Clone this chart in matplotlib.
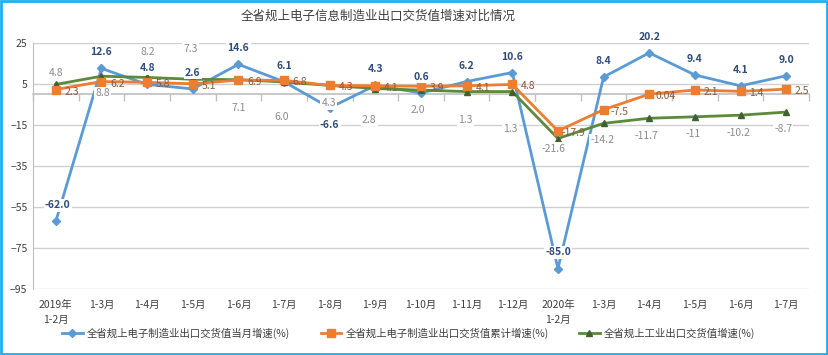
import matplotlib
matplotlib.use("Agg")
import matplotlib.pyplot as plt
from matplotlib.lines import Line2D
from matplotlib.patches import Rectangle

plt.rcParams['font.family'] = ['Noto Sans CJK SC', 'DejaVu Sans']

# data
cats = ["2019年\n1-2月", "1-3月", "1-4月", "1-5月", "1-6月", "1-7月", "1-8月", "1-9月",
        "1-10月", "1-11月", "1-12月", "2020年\n1-2月", "1-3月", "1-4月", "1-5月", "1-6月", "1-7月"]
blue = [-62.0, 12.6, 4.8, 2.6, 14.6, 6.1, -6.6, 4.3, 0.6, 6.2, 10.6, -85.0, 8.4, 20.2, 9.4, 4.1, 9.0]
orange = [2.3, 6.2, 5.8, 5.1, 6.9, 6.8, 4.3, 4.1, 3.9, 4.1, 4.8, -17.9, -7.5, 0.04, 2.1, 1.4, 2.5]
green_txt = ["4.8", "8.8", "8.2", "7.3", "7.1", "6.0", "4.3", "2.8", "2.0", "1.3", "1.3",
             "-21.6", "-14.2", "-11.7", "-11", "-10.2", "-8.7"]
green = [float(s) for s in green_txt]
names = ["全省规上电子制造业出口交货值当月增速(%)",
         "全省规上电子制造业出口交货值累计增速(%)",
         "全省规上工业出口交货值增速(%)"]
title = "全省规上电子信息制造业出口交货值增速对比情况"

# label offsets in pixels
blue_off = [(2, 16)] + [(0, 16)] * 5 + [(0, -17)] + [(0, 16)] * 10
orange_off = [(16, -2)] * 17
green_off = [(0, 11), (1, -17), (1, 25), (-2, 30), (0, -28), (-2, -35), (-1, -18), (-6, -31),
             (-3, -20), (-1, -28), (-2, -37), (-4, -10), (-1, -17), (-3, -18), (-2, -17),
             (-2, -18), (-3, -17)]

c_blue, c_orange, c_green = "#5B9BD5", "#ED7D31", "#5A8A3A"

fig = plt.figure(figsize=(8.29, 3.55), dpi=100)
ax = fig.add_axes([33 / 829, 1 - 289 / 355, 776 / 829, 246 / 355])
x = list(range(len(cats)))

ax.plot(x, blue, color=c_blue, lw=2, marker="D", ms=4, zorder=3)
ax.plot(x, orange, color=c_orange, lw=2, marker="s", ms=6, zorder=4)
ax.plot(x, green, color=c_green, lw=2, marker="^", ms=4.5, mfc="#3F6130", mec="#3F6130", zorder=3)

box = dict(boxstyle="square,pad=0.12", fc="white", ec="none")
for i, v in enumerate(blue):
    ax.annotate(f"{v:.1f}", (i, v), xytext=blue_off[i], textcoords="offset pixels",
                ha="center", va="center", fontsize=7.5, fontweight="bold", color="#2E4D7B",
                bbox=box, zorder=6)
for i, v in enumerate(orange):
    ax.annotate(f"{v:g}", (i, v), xytext=orange_off[i], textcoords="offset pixels",
                ha="center", va="center", fontsize=7.5, color="#8A5A3C", zorder=6)
for i, v in enumerate(green):
    ax.annotate(green_txt[i], (i, v), xytext=green_off[i], textcoords="offset pixels",
                ha="center", va="center", fontsize=7.5, color="#8C8C8C", bbox=box, zorder=6)

ax.set_xlim(-0.5, len(cats) - 0.5)
ax.set_ylim(-95, 25)
ax.set_yticks(range(-95, 26, 20))
ax.yaxis.grid(True, color="#D0D0D0", lw=1)
ax.set_axisbelow(True)
ax.tick_params(axis="y", length=0, labelsize=7.5, labelcolor="#404040", pad=4)

# category axis crosses at 0
for s in ["top", "right"]:
    ax.spines[s].set_visible(False)
ax.spines["left"].set_color("#BFBFBF")
ax.spines["bottom"].set_position(("data", 0))
ax.spines["bottom"].set_color("#BFBFBF")
ax.spines["bottom"].set_linewidth(1.2)
ax.set_xticks([i + 0.5 for i in range(-1, len(cats))])
ax.set_xticklabels([])
ax.tick_params(axis="x", direction="out", length=5, color="#BFBFBF", width=1)

# labels at bottom
ax2 = ax.twiny()
ax2.set_xlim(ax.get_xlim())
ax2.xaxis.set_ticks_position("bottom")
ax2.xaxis.set_label_position("bottom")
ax2.set_xticks(x)
ax2.set_xticklabels(cats, fontsize=7.5, color="#404040", linespacing=1.6)
ax2.tick_params(axis="x", length=0, pad=8)
for s in ax2.spines.values():
    s.set_visible(False)

fig.text(378 / 829, 1 - 16 / 355, title, ha="center", va="center", fontsize=9, color="#404040")

handles = [
    Line2D([], [], color=c_blue, lw=2, marker="D", ms=4),
    Line2D([], [], color=c_orange, lw=2, marker="s", ms=6),
    Line2D([], [], color=c_green, lw=2, marker="^", ms=4.5, mfc="#3F6130", mec="#3F6130"),
]
leg = fig.legend(handles, names, loc="center", bbox_to_anchor=(0.493, 1 - 333 / 355), ncol=3,
                 frameon=False, fontsize=7.5, handlelength=2.0, columnspacing=2.9, handletextpad=0.4)
for t in leg.get_texts():
    t.set_color("#404040")

fig.patches.append(Rectangle((0.001, 0.002), 0.997, 0.995, transform=fig.transFigure,
                             fill=False, ec="#1CB0EE", lw=2))

fig.savefig("out.png", dpi=100)
